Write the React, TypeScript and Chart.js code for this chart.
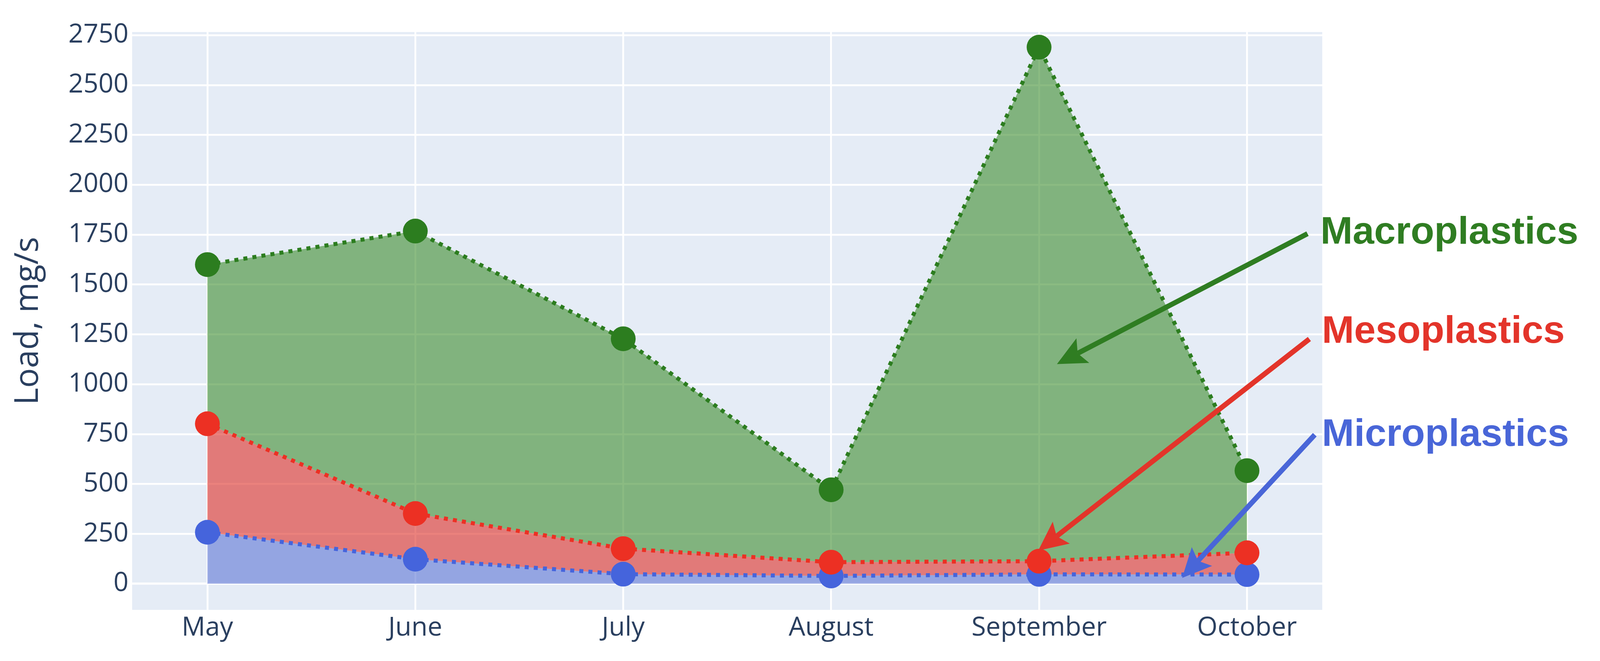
import React, { useEffect, useRef, useState } from 'react';
import { Chart, registerables } from 'chart.js';

Chart.register(...registerables);

// ---- data ----
const months = ['May', 'June', 'July', 'August', 'September', 'October'];
const macroplastics = [1600, 1768, 1228, 471, 2690, 567];
const mesoplastics = [802, 352, 176, 108, 113, 155];
const microplastics = [258, 123, 48, 39, 47, 46];
const yTickValues = [0, 250, 500, 750, 1000, 1250, 1500, 1750, 2000, 2250, 2500, 2750];
const xRange = [-0.362, 5.362];
const yRange = [-131, 2766];

// annotations (data coordinates, plotly-style: text + arrow from tail to head)
const annotationLabels = ['Macroplastics', 'Mesoplastics', 'Microplastics'];
const annotationTailX = [5.291, 5.3, 5.326];
const annotationTailY = [1755, 1227, 747];
const annotationHeadX = [4.086, 3.996, 4.688];
const annotationHeadY = [1101, 166, 29];
const annotationTextX = [5.353, 5.36, 5.36];
const annotationTextY = [1706, 1207, 691];

// ---- styles ----
const GREEN = '#2c7d1f';
const RED = '#ec3023';
const BLUE = '#4564dc';
const GREEN_FILL = 'rgba(61,141,46,0.6)';
const RED_FILL = 'rgba(221,46,38,0.6)';
const BLUE_FILL = 'rgba(94,119,213,0.6)';
const annotationColors = ['#2f7d22', '#e3342a', '#4966d8'];
const PLOT_BG = '#e5ecf6';
const AXIS_TEXT = '#2a3f5f';
const REF_W = 4384;
const REF_H = 1693;

function makePlugins(k: number) {
  const plotBackground = {
    id: 'plotBackground',
    beforeDraw(chart: any) {
      const { ctx, chartArea } = chart;
      ctx.save();
      ctx.fillStyle = '#ffffff';
      ctx.fillRect(0, 0, chart.width, chart.height);
      ctx.fillStyle = PLOT_BG;
      ctx.fillRect(chartArea.left, chartArea.top, chartArea.right - chartArea.left, chartArea.bottom - chartArea.top);
      ctx.restore();
    },
  };

  const arrowAnnotations = {
    id: 'arrowAnnotations',
    afterDraw(chart: any) {
      const { ctx } = chart;
      const xs = chart.scales.x;
      const ys = chart.scales.y;
      ctx.save();
      annotationLabels.forEach((label, i) => {
        const color = annotationColors[i];
        const tx = xs.getPixelForValue(annotationTailX[i]);
        const ty = ys.getPixelForValue(annotationTailY[i]);
        const hx = xs.getPixelForValue(annotationHeadX[i]);
        const hy = ys.getPixelForValue(annotationHeadY[i]);
        const ang = Math.atan2(hy - ty, hx - tx);
        const c = Math.cos(ang);
        const s = Math.sin(ang);
        const headLen = 80 * k;
        const headHalf = 38 * k;
        const notch = 64 * k;
        const bx = hx - headLen * c;
        const by = hy - headLen * s;
        const nx = hx - notch * c;
        const ny = hy - notch * s;
        ctx.strokeStyle = color;
        ctx.fillStyle = color;
        ctx.lineWidth = 14 * k;
        ctx.lineCap = 'butt';
        ctx.beginPath();
        ctx.moveTo(tx, ty);
        ctx.lineTo(nx, ny);
        ctx.stroke();
        ctx.beginPath();
        ctx.moveTo(hx, hy);
        ctx.lineTo(bx - headHalf * s, by + headHalf * c);
        ctx.lineTo(nx, ny);
        ctx.lineTo(bx + headHalf * s, by - headHalf * c);
        ctx.closePath();
        ctx.fill();

        ctx.font = `bold ${106 * k}px "Liberation Sans", Arial, sans-serif`;
        ctx.textAlign = 'left';
        ctx.textBaseline = 'alphabetic';
        ctx.fillText(label, xs.getPixelForValue(annotationTextX[i]), ys.getPixelForValue(annotationTextY[i]));
      });
      ctx.restore();
    },
  };
  return [plotBackground, arrowAnnotations];
}

function toPoints(values: number[]) {
  return values.map((v, i) => ({ x: i, y: v }));
}

function lineDataset(label: string, values: number[], color: string, fillColor: string, fill: any, k: number) {
  return {
    label,
    data: toPoints(values),
    borderColor: color,
    backgroundColor: fillColor,
    borderWidth: 11 * k,
    borderDash: [11 * k, 14 * k],
    borderCapStyle: 'butt',
    pointRadius: 34 * k,
    pointHoverRadius: 34 * k,
    pointBackgroundColor: color,
    pointBorderWidth: 0,
    pointBorderColor: color,
    fill,
    tension: 0,
    clip: false,
  };
}

export default function App() {
  const canvasRef = useRef<HTMLCanvasElement | null>(null);
  const [size] = useState(() => {
    document.body.style.margin = '0';
    document.body.style.overflow = 'hidden';
    document.body.style.background = '#ffffff';
    const w = window.innerWidth || REF_W;
    const h = window.innerHeight || REF_H;
    return { w, h };
  });

  useEffect(() => {
    const canvas = canvasRef.current;
    if (!canvas) return;
    const { w, h } = size;
    const kx = w / REF_W;
    const ky = h / REF_H;
    const k = Math.min(kx, ky);
    const chart = new Chart(canvas, {
      type: 'line',
      data: {
        datasets: [
          lineDataset('Macroplastics', macroplastics, GREEN, GREEN_FILL, '+1', k),
          lineDataset('Mesoplastics', mesoplastics, RED, RED_FILL, '+1', k),
          lineDataset('Microplastics', microplastics, BLUE, BLUE_FILL, 'origin', k),
        ] as any,
      },
      options: {
        animation: false,
        responsive: false,
        devicePixelRatio: window.devicePixelRatio || 1,
        events: [],
        layout: { padding: { left: 0, top: 82 * ky, right: w - 3623 * kx, bottom: 0 } },
        plugins: {
          legend: { display: false },
          tooltip: { enabled: false },
          filler: { drawTime: 'beforeDatasetsDraw', propagate: false },
        },
        scales: {
          x: {
            type: 'linear',
            min: xRange[0],
            max: xRange[1],
            afterBuildTicks: (scale: any) => {
              scale.ticks = months.map((_, i) => ({ value: i }));
            },
            afterFit: (scale: any) => {
              scale.height = h - 1562 * ky;
            },
            ticks: {
              autoSkip: false,
              maxRotation: 0,
              padding: 6 * ky,
              color: AXIS_TEXT,
              font: { family: "'Open Sans'", size: 72 * k, lineHeight: 1.2 },
              callback: (v: any) => months[Math.round(Number(v))] ?? '',
            },
            grid: { color: '#ffffff', lineWidth: 5 * k, drawTicks: false },
            border: { display: false },
          },
          y: {
            type: 'linear',
            min: yRange[0],
            max: yRange[1],
            afterBuildTicks: (scale: any) => {
              scale.ticks = yTickValues.map((v) => ({ value: v }));
            },
            afterFit: (scale: any) => {
              scale.width = 362 * kx;
            },
            ticks: {
              padding: 10 * kx,
              color: AXIS_TEXT,
              font: { family: "'Open Sans'", size: 72 * k, lineHeight: 1.2 },
              callback: (v: any) => String(v),
            },
            grid: {
              color: '#ffffff',
              lineWidth: (ctx: any) => (ctx.tick && ctx.tick.value === 0 ? 6 * k : 5 * k),
              drawTicks: false,
            },
            border: { display: false },
            title: {
              display: true,
              text: 'Load, mg/s',
              color: AXIS_TEXT,
              font: { family: "'Open Sans'", size: 90 * k, lineHeight: 1.2 },
              padding: { top: 24 * kx, bottom: 0 },
            },
          },
        },
      } as any,
      plugins: makePlugins(k),
    });
    return () => chart.destroy();
  }, [size]);

  return (
    <div style={{ width: size.w, height: size.h, overflow: 'hidden' }}>
      <canvas ref={canvasRef} style={{ display: 'block', width: size.w, height: size.h }} width={size.w} height={size.h} />
    </div>
  );
}
